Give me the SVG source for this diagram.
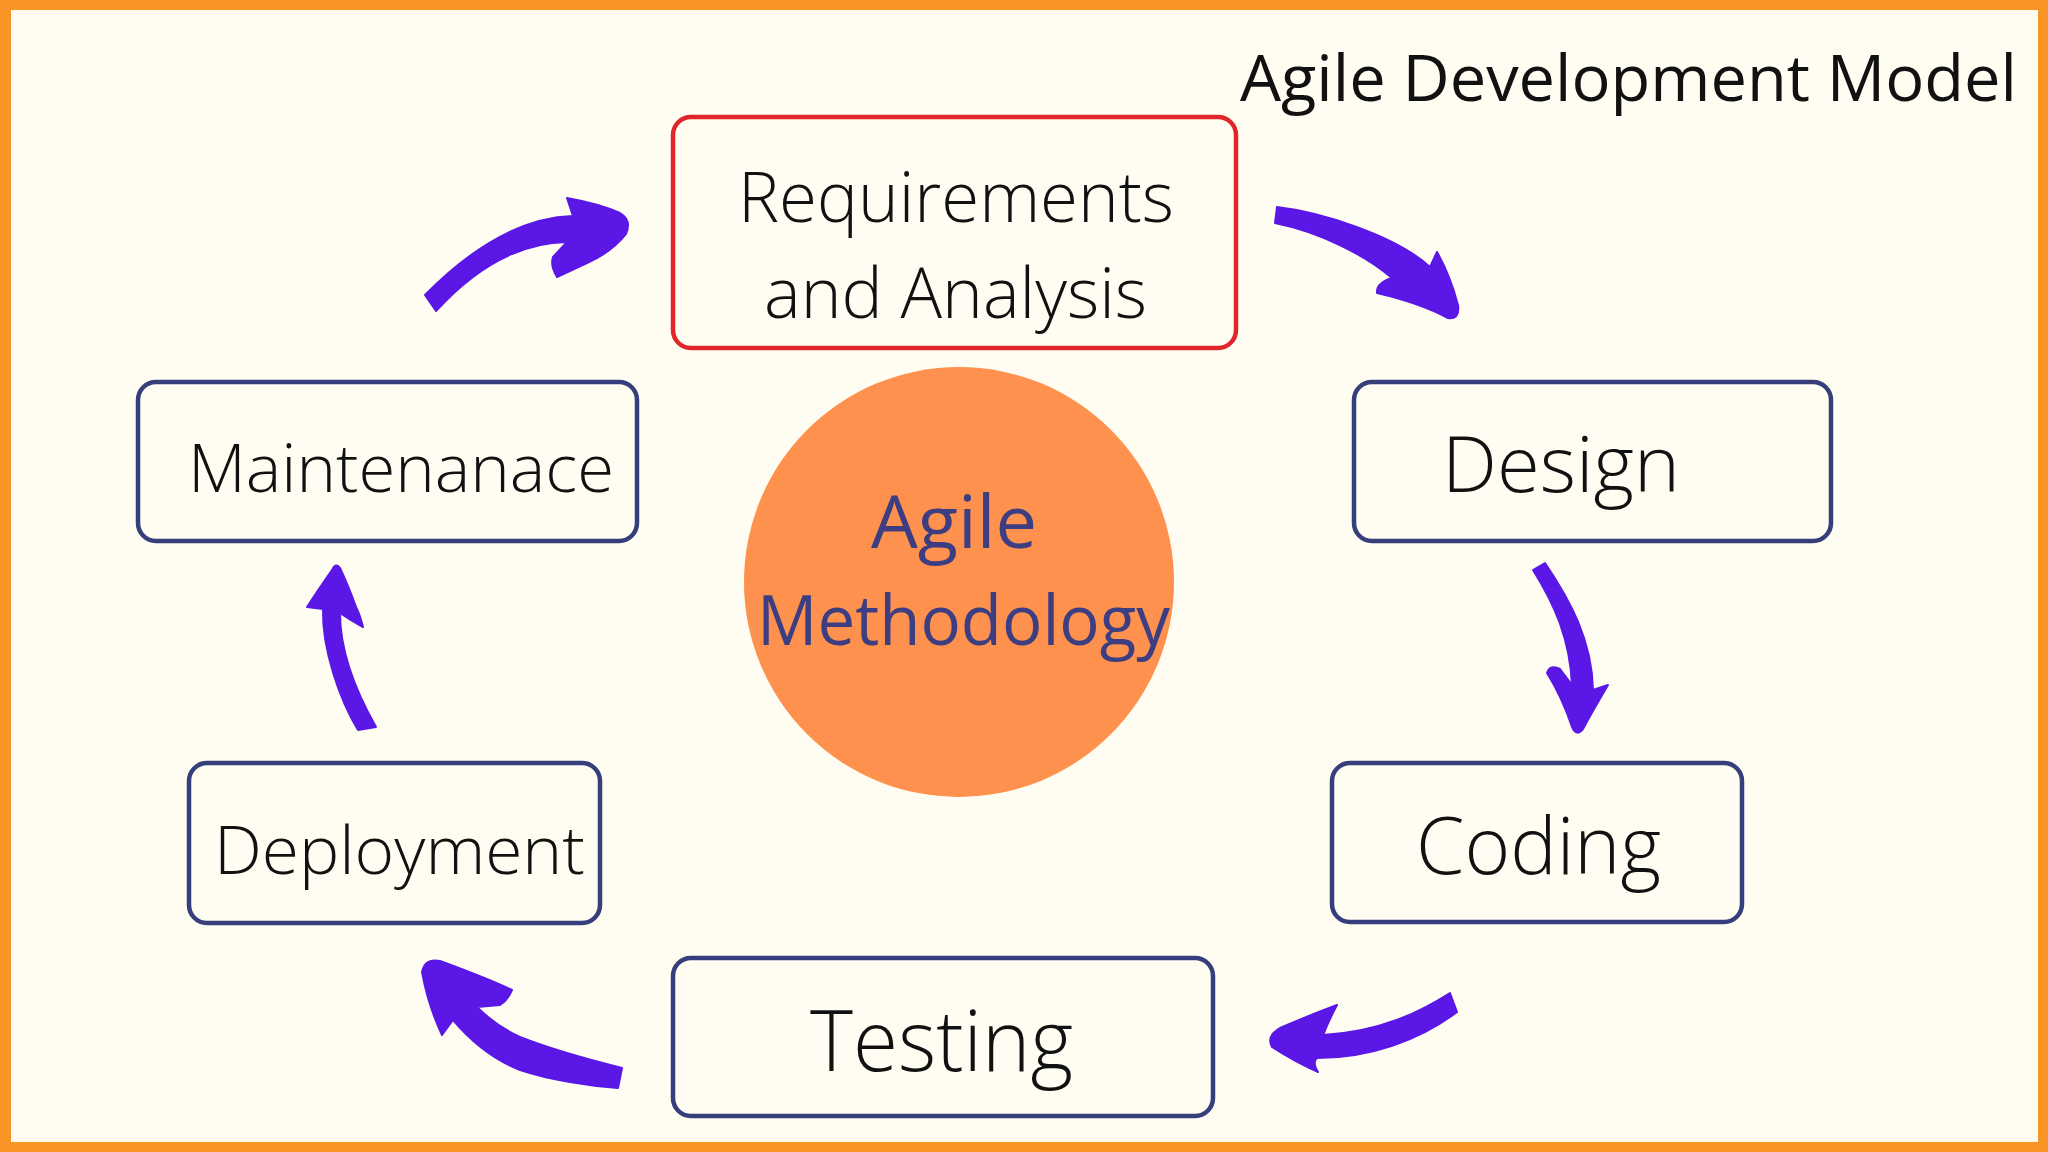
<svg xmlns="http://www.w3.org/2000/svg" width="2048" height="1152" viewBox="0 0 2048 1152">
<style>
.box{fill:none;stroke:#363E7C;stroke-width:4.5}
.req{fill:none;stroke:#E1262B;stroke-width:4.5}
.lbl{font-family:"Open Sans","Liberation Sans",sans-serif;font-weight:300;fill:#111111}
.ctr{font-family:"Open Sans","Liberation Sans",sans-serif;font-weight:400;fill:#3D3E82}
.title{font-family:"Open Sans","Liberation Sans",sans-serif;font-weight:400;fill:#111111}
.arrow{fill:#5A17E6;stroke:#5A17E6;stroke-width:2;stroke-linejoin:round}
</style>
<rect x="0" y="0" width="2048" height="1152" fill="#F99524"/>
<rect x="11" y="10" width="2027" height="1132" fill="#FFFDF2"/>
<text class="title" x="1240" y="101" font-size="64" textLength="777" lengthAdjust="spacingAndGlyphs">Agile Development Model</text>
<g id="center">
<circle cx="959" cy="582" r="215" fill="#FE914D"/>
<text class="ctr" x="871" y="548" font-size="74" textLength="166" lengthAdjust="spacingAndGlyphs">Agile</text>
<text class="ctr" x="757" y="645" font-size="70" textLength="413" lengthAdjust="spacingAndGlyphs">Methodology</text>
</g>
<g id="requirements">
<rect class="req" x="673" y="117" width="563" height="231" rx="18"/>
<text class="lbl" x="738" y="222" font-size="70" textLength="436" lengthAdjust="spacingAndGlyphs">Requirements</text>
<text class="lbl" x="764" y="318" font-size="70" textLength="383" lengthAdjust="spacingAndGlyphs">and Analysis</text>
</g>
<g id="design">
<rect class="box" x="1354" y="382" width="477" height="159" rx="18"/>
<text class="lbl" x="1442" y="492" font-size="77" textLength="238" lengthAdjust="spacingAndGlyphs">Design</text>
</g>
<g id="coding">
<rect class="box" x="1332" y="763" width="410" height="159" rx="18"/>
<text class="lbl" x="1416" y="874" font-size="80" textLength="245" lengthAdjust="spacingAndGlyphs">Coding</text>
</g>
<g id="testing">
<rect class="box" x="673" y="958" width="540" height="158" rx="18"/>
<text class="lbl" x="810" y="1071" font-size="85" textLength="263" lengthAdjust="spacingAndGlyphs">Testing</text>
</g>
<g id="deployment">
<rect class="box" x="189" y="763" width="411" height="160" rx="18"/>
<text class="lbl" x="214" y="874" font-size="67" textLength="371" lengthAdjust="spacingAndGlyphs">Deployment</text>
</g>
<g id="maintenance">
<rect class="box" x="138" y="382" width="499" height="159" rx="18"/>
<text class="lbl" x="188" y="492" font-size="66" textLength="426" lengthAdjust="spacingAndGlyphs">Maintenanace</text>
</g>
<g id="connectors">
<path class="arrow" d="M425,295 Q501,218 573,216 L567,198 Q600,204 620,213 Q632,220 626,234 Q612,252 587,263 L557,277 Q550,265 553,257 L567,242 Q498,243 436,311 Z"/>
<path class="arrow" d="M1277,207 C1320,212 1395,235 1430,267 L1437,252 Q1450,275 1458,305 Q1460,320 1448,318 Q1420,303 1377,293 Q1376,283 1392,278 C1365,255 1320,232 1275,223 Z"/>
<path class="arrow" d="M1545,563 C1570,600 1592,640 1593,690 L1608,685 Q1592,712 1583,729 Q1576,737 1572,727 Q1562,697 1547,673 Q1550,664 1560,669 L1572,685 C1570,640 1555,605 1533,570 Z"/>
<path class="arrow" d="M1450,993 C1420,1012 1380,1032 1323,1035 Q1330,1018 1337,1005 Q1310,1015 1280,1028 Q1266,1036 1272,1047 Q1295,1062 1318,1072 Q1312,1062 1317,1058 C1370,1058 1420,1040 1457,1012 Z"/>
<path class="arrow" d="M622,1068 C590,1060 545,1047 520,1037 C500,1028 487,1017 477,1007 L500,1005 Q508,1000 512,990 C495,982 470,972 440,961 Q425,958 422,972 Q428,1005 442,1035 L453,1020 C470,1040 490,1058 520,1070 C550,1080 590,1086 618,1088 Z"/>
<path class="arrow" d="M376,727 C355,690 340,650 340,613 Q350,620 363,627 Q360,615 356,607 Q348,585 340,568 Q336,562 332,570 Q318,590 307,607 Q315,608 323,609 C322,650 340,700 358,730 Z"/>
</g>
</svg>
